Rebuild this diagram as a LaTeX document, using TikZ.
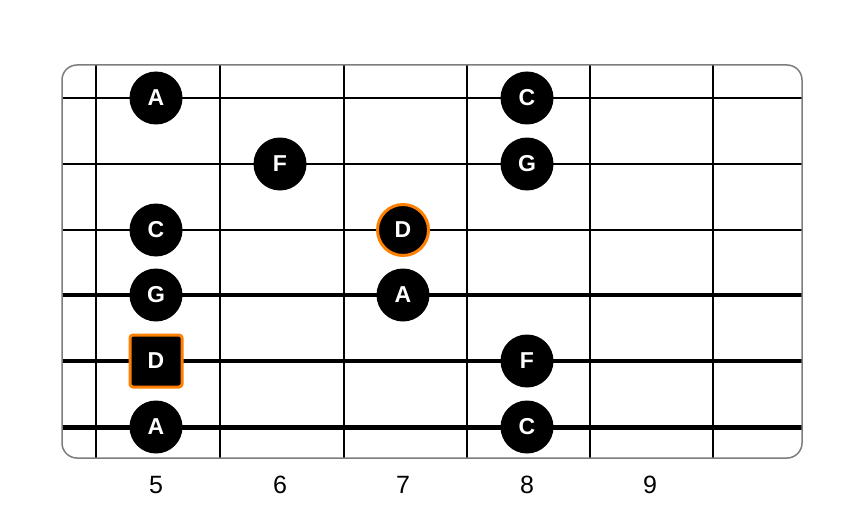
\documentclass[tikz,border=0pt]{standalone}
\usepackage{fontspec}
\setmainfont{Liberation Sans}
\definecolor{orng}{RGB}{255,128,0}
\definecolor{framegray}{RGB}{125,125,125}
\begin{document}
\begin{tikzpicture}[x=1pt,y=-1pt,
  note/.style={circle,fill=black,minimum size=53pt,inner sep=0pt,text=white,
    font=\fontsize{23pt}{23pt}\selectfont\bfseries},
  rootcircle/.style={note,draw=orng,line width=3pt,minimum size=51pt},
  rootsquare/.style={rectangle,fill=black,draw=orng,line width=3pt,rounded corners=3pt,
    minimum size=52pt,inner sep=0pt,text=white,font=\fontsize{23pt}{23pt}\selectfont\bfseries},
  fretlbl/.style={font=\fontsize{25pt}{25pt}\selectfont,text=black},
  fretline/.style={line width=2.8pt,black},
  stringline/.style={black}]
\useasboundingbox (0,0) rectangle (864,524);
% strings
\foreach \y/\w in {98/1.5,164/2.2,230/2.9,295/3.6,361/4.3,427/5.0}
  \draw[stringline,line width=\w pt] (62,\y) -- (802,\y);
% frets
\foreach \x in {96,220,344,467,590,713}
  \draw[fretline] (\x,65) -- (\x,458);
% frame
\draw[framegray,line width=1.5pt,rounded corners=15pt] (62,65) rectangle (802,458);
% notes
\node[note] (a1) at (156,98) {A};
\node[note] (c1) at (527,98) {C};
\node[note] (f2) at (280,164) {F};
\node[note] (g2) at (527,164) {G};
\node[note] (c3) at (156,230) {C};
\node[rootcircle] (d3) at (403,230) {D};
\node[note] (g4) at (156,295) {G};
\node[note] (a4) at (403,295) {A};
\node[rootsquare] (d5) at (156,361) {D};
\node[note] (f5) at (527,361) {F};
\node[note] (a6) at (156,427) {A};
\node[note] (c6) at (527,427) {C};
% fret numbers
\node[fretlbl] (n5) at (156,485) {5};
\node[fretlbl] (n6) at (280,485) {6};
\node[fretlbl] (n7) at (403,485) {7};
\node[fretlbl] (n8) at (527,485) {8};
\node[fretlbl] (n9) at (650,485) {9};
\end{tikzpicture}
\end{document}
